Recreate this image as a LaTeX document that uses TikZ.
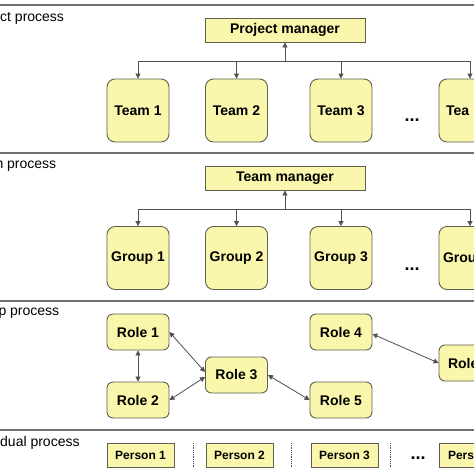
\documentclass[tikz,border=0pt]{standalone}
\usepackage{fontspec}
\setmainfont{Liberation Sans}
\usetikzlibrary{arrows.meta}
\definecolor{boxfill}{RGB}{250,246,172}
\definecolor{boxline}{RGB}{96,96,78}
\definecolor{linkgray}{RGB}{80,80,80}
\definecolor{sepgray}{RGB}{112,112,112}
\newcommand{\boxfont}{\fontsize{14}{16}\selectfont\bfseries}
\tikzset{
  unitbox/.style={draw=boxline, fill=boxfill, line width=0.9pt, rounded corners=8pt,
                  minimum width=62pt, minimum height=63pt, font=\boxfont},
  mgrbox/.style={draw=boxline, fill=boxfill, line width=0.9pt,
                 minimum width=160pt, minimum height=24pt, font=\boxfont},
  rolebox/.style={draw=boxline, fill=boxfill, line width=0.9pt, rounded corners=6pt,
                  minimum width=62pt, minimum height=36pt, font=\boxfont},
  perbox/.style={draw=boxline, fill=boxfill, line width=0.9pt,
                 minimum width=67pt, minimum height=24pt, font=\fontsize{12}{14}\selectfont\bfseries},
  proctitle/.style={anchor=west, inner sep=0pt, font=\fontsize{14}{16}\selectfont},
  moredots/.style={inner sep=0pt, font=\fontsize{18}{18}\selectfont\bfseries},
  treearr/.style={-{Triangle[length=5pt,width=5pt]}, linkgray, line width=0.9pt},
  rolearr/.style={{Triangle[length=5pt,width=5pt]}-{Triangle[length=5pt,width=5pt]}, linkgray, line width=0.8pt},
  sepline/.style={sepgray, line width=1.1pt},
}

\begin{document}
\begin{tikzpicture}[x=1pt, y=-1pt]
  \useasboundingbox (0,0) rectangle (474,474);
  \clip (0,0) rectangle (474,474);
  \fill[white] (0,0) rectangle (474,474);

  % section borders
  \foreach \yy in {5,153,301,430} \draw[sepline] (0,\yy) -- (474,\yy);

  % project process
  \node[proctitle] (ttlproj) at (0,18) {ct process};
  \node[mgrbox] (pm) at (285,30) {Project manager};
  \node[unitbox] (t1) at (138,110.5) {Team 1};
  \node[unitbox] (t2) at (236.5,110.5) {Team 2};
  \node[unitbox] (t3) at (341,110.5) {Team 3};
  \node[unitbox, text width=48pt, align=left] (t4) at (470,110.5) {Tea};
  \node[moredots] (dotsteam) at (412,120) {...};
  \coordinate (busproj) at (285,61);
  \draw[linkgray, line width=0.9pt] (t1.north |- busproj) -- (t4.north |- busproj);
  \foreach \tt in {t1,t2,t3,t4} \draw[treearr] (\tt.north |- busproj) -- (\tt.north);
  \draw[treearr] (pm.south |- busproj) -- (pm.south);

  % team process
  \node[proctitle] (ttlteam) at (-4.7,166) {n process};
  \node[mgrbox] (tm) at (285,178) {Team manager};
  \node[unitbox] (g1) at (138,258) {Group 1};
  \node[unitbox] (g2) at (236.5,258) {Group 2};
  \node[unitbox] (g3) at (341,258) {Group 3};
  \node[unitbox, text width=54pt, align=left] (g4) at (470,258) {Grou};
  \node[moredots] (dotsgroup) at (412,269) {...};
  \coordinate (busteam) at (285,209);
  \draw[linkgray, line width=0.9pt] (g1.north |- busteam) -- (g4.north |- busteam);
  \foreach \gg in {g1,g2,g3,g4} \draw[treearr] (\gg.north |- busteam) -- (\gg.north);
  \draw[treearr] (tm.south |- busteam) -- (tm.south);

  % group process
  \node[proctitle] (ttlgroup) at (-1.7,313) {p process};
  \node[rolebox] (r1) at (138,332) {Role 1};
  \node[rolebox] (r2) at (138,400) {Role 2};
  \node[rolebox] (r3) at (236.5,375) {Role 3};
  \node[rolebox] (r4) at (341,332) {Role 4};
  \node[rolebox] (r5) at (341,400) {Role 5};
  \node[rolebox, text width=44pt, align=left] (r6) at (470,363) {Role};
  \draw[rolearr] (r1.south) -- (r2.north);
  \draw[rolearr] (r1.east) -- ([yshift=3pt]r3.west);
  \draw[rolearr] (r2.east) -- ([yshift=-2pt]r3.west);
  \draw[rolearr] (r3.east) -- (r5.west);
  \draw[rolearr] ([yshift=-2pt]r4.east) -- (r6.west);

  % individual process
  \node[proctitle] (ttlindiv) at (0,443) {dual process};
  \node[perbox] (p1) at (140.5,455) {Person 1};
  \node[perbox] (p2) at (239.5,455) {Person 2};
  \node[perbox] (p3) at (344.5,455) {Person 3};
  \node[perbox, text width=49pt, align=left] (p4) at (472.5,455) {Pers};
  \node[moredots] (dotsperson) at (418,458) {...};
  \foreach \xx in {193,291,390}
    \draw[linkgray, densely dotted, line width=0.8pt] (\xx,443) -- (\xx,468);
\end{tikzpicture}
\end{document}
